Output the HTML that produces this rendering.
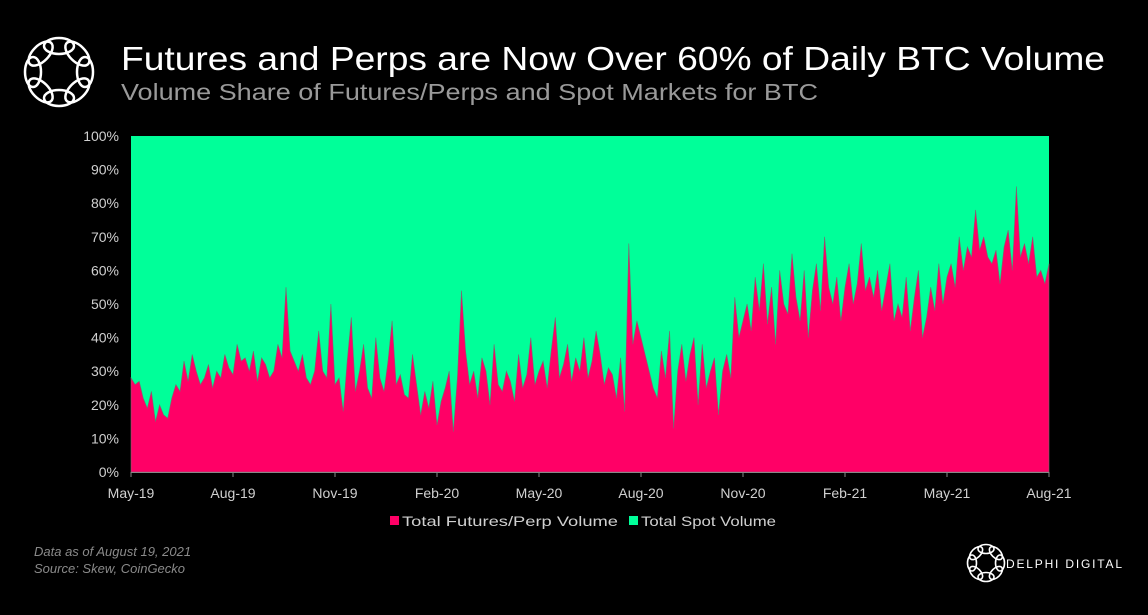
<!DOCTYPE html>
<html><head><meta charset="utf-8"><style>
body{margin:0;background:#000;width:1148px;height:610px;overflow:hidden;font-family:"Liberation Sans",sans-serif}
</style></head><body>
<svg width="1148" height="610" viewBox="0 0 1148 610" id="svg">
<rect width="1148" height="610" fill="#000"/>
<g fill="none" stroke="#fff" stroke-width="2.5">
<g transform="translate(59,72)">
<ellipse rx="15" ry="8" transform="rotate(0) translate(0,-26)"/>
<ellipse rx="15" ry="8" transform="rotate(45) translate(0,-26)"/>
<ellipse rx="15" ry="8" transform="rotate(90) translate(0,-26)"/>
<ellipse rx="15" ry="8" transform="rotate(135) translate(0,-26)"/>
<ellipse rx="15" ry="8" transform="rotate(180) translate(0,-26)"/>
<ellipse rx="15" ry="8" transform="rotate(225) translate(0,-26)"/>
<ellipse rx="15" ry="8" transform="rotate(270) translate(0,-26)"/>
<ellipse rx="15" ry="8" transform="rotate(315) translate(0,-26)"/>
</g></g>
<text x="121" y="70" fill="#fff" font-size="33" textLength="984" lengthAdjust="spacingAndGlyphs">Futures and Perps are Now Over 60% of Daily BTC Volume</text>
<text x="121" y="100" fill="#9a9a9a" font-size="23" textLength="697" lengthAdjust="spacingAndGlyphs">Volume Share of Futures/Perps and Spot Markets for BTC</text>
<g id="plot"></g>
<g id="axes" font-size="14" fill="#d0d0d0"></g>
<g font-size="14" fill="#d0d0d0">
<rect x="390" y="516" width="9" height="9" fill="#ff0066"/>
<text x="402" y="526" textLength="216" lengthAdjust="spacingAndGlyphs">Total Futures/Perp Volume</text>
<rect x="629" y="516" width="9" height="9" fill="#00ff99"/>
<text x="641" y="526" textLength="135" lengthAdjust="spacingAndGlyphs">Total Spot Volume</text>
</g>
<g font-size="13" font-style="italic" fill="#8a8a8a">
<text x="34" y="556">Data as of August 19, 2021</text>
<text x="34" y="573">Source:  Skew, CoinGecko</text>
</g>
<g fill="none" stroke="#fff" stroke-width="1.6">
<g transform="translate(986,563)">
<ellipse rx="8" ry="4.5" transform="rotate(0) translate(0,-14)"/>
<ellipse rx="8" ry="4.5" transform="rotate(45) translate(0,-14)"/>
<ellipse rx="8" ry="4.5" transform="rotate(90) translate(0,-14)"/>
<ellipse rx="8" ry="4.5" transform="rotate(135) translate(0,-14)"/>
<ellipse rx="8" ry="4.5" transform="rotate(180) translate(0,-14)"/>
<ellipse rx="8" ry="4.5" transform="rotate(225) translate(0,-14)"/>
<ellipse rx="8" ry="4.5" transform="rotate(270) translate(0,-14)"/>
<ellipse rx="8" ry="4.5" transform="rotate(315) translate(0,-14)"/>
</g></g>
<text x="1006" y="568" fill="#fff" font-size="12" textLength="116" lengthAdjust="spacing">DELPHI DIGITAL</text>
</svg>
<script>
const xLabels=["May-19","Aug-19","Nov-19","Feb-20","May-20","Aug-20","Nov-20","Feb-21","May-21","Aug-21"];
const yTicks=[0,10,20,30,40,50,60,70,80,90,100];
const futuresShare=[28,26,27,22,19,24,15,20,17,16,22,26,24,33,27,35,30,26,28,32,25,30,28,35,31,
29,38,33,34,30,36,27,34,32,28,30,38,34,55,36,33,30,35,28,26,30,42,30,28,50,
26,28,18,33,46,24,30,38,25,22,40,28,24,33,45,26,29,23,22,35,26,17,24,19,27,
14,21,25,30,12,28,54,36,26,30,22,34,30,20,38,26,24,30,27,21,35,25,29,40,26,
30,33,25,36,46,28,32,38,27,34,30,40,28,33,42,35,26,31,29,22,34,18,68,38,45,
40,35,30,25,22,36,28,42,13,30,38,27,35,40,20,38,25,30,34,17,30,35,28,52,40,
45,50,42,58,48,62,44,55,38,60,50,47,65,52,45,60,40,54,62,48,70,55,50,58,45,
55,62,50,56,68,54,58,52,60,48,55,62,45,50,46,58,42,52,60,40,46,55,48,62,50,
58,62,55,70,60,67,64,78,66,70,64,62,66,56,67,72,60,85,64,68,62,70,58,60,56,62];
const X0=131,X1=1049,Y0=472,Y1=136;
const NS="http://www.w3.org/2000/svg";
function yS(v){return Y0-(v/100)*(Y0-Y1);}
function xS(i){return X0+i*(X1-X0)/(futuresShare.length-1);}
function xT(i){return X0+i*(X1-X0)/(xLabels.length-1);}
const plot=document.getElementById('plot'),axes=document.getElementById('axes');
const spot=document.createElementNS(NS,'rect');
spot.setAttribute('x',X0);spot.setAttribute('y',Y1);spot.setAttribute('width',X1-X0);spot.setAttribute('height',Y0-Y1);spot.setAttribute('fill','#00ff99');


plot.appendChild(spot);
let d='M'+X0+','+Y0;
futuresShare.forEach((v,i)=>{d+=' L'+xS(i).toFixed(1)+','+yS(v).toFixed(1);});
d+=' L'+X1+','+Y0+' Z';
const fut=document.createElementNS(NS,'path');
fut.setAttribute('d',d);fut.setAttribute('fill','#ff0066');fut.setAttribute('stroke','#7a6a70');fut.setAttribute('stroke-width','0.6');


plot.appendChild(fut);
yTicks.forEach(v=>{const t=document.createElementNS(NS,'text');
t.setAttribute('x',119);t.setAttribute('y',yS(v)+5);t.setAttribute('text-anchor','end');t.textContent=v+'%';


axes.appendChild(t);});
const ax=document.createElementNS(NS,'line');
ax.setAttribute('x1',X0);ax.setAttribute('x2',X1);ax.setAttribute('y1',Y0+0.5);ax.setAttribute('y2',Y0+0.5);ax.setAttribute('stroke','#888');


axes.appendChild(ax);
xLabels.forEach((l,i)=>{const x=xT(i);
const tk=document.createElementNS(NS,'line');tk.setAttribute('x1',x);tk.setAttribute('x2',x);tk.setAttribute('y1',Y0);tk.setAttribute('y2',Y0+5);tk.setAttribute('stroke','#888');


axes.appendChild(tk);
const t=document.createElementNS(NS,'text');t.setAttribute('x',x);t.setAttribute('y',498);t.setAttribute('text-anchor','middle');t.textContent=l;


axes.appendChild(t);});
</script>
</body></html>
